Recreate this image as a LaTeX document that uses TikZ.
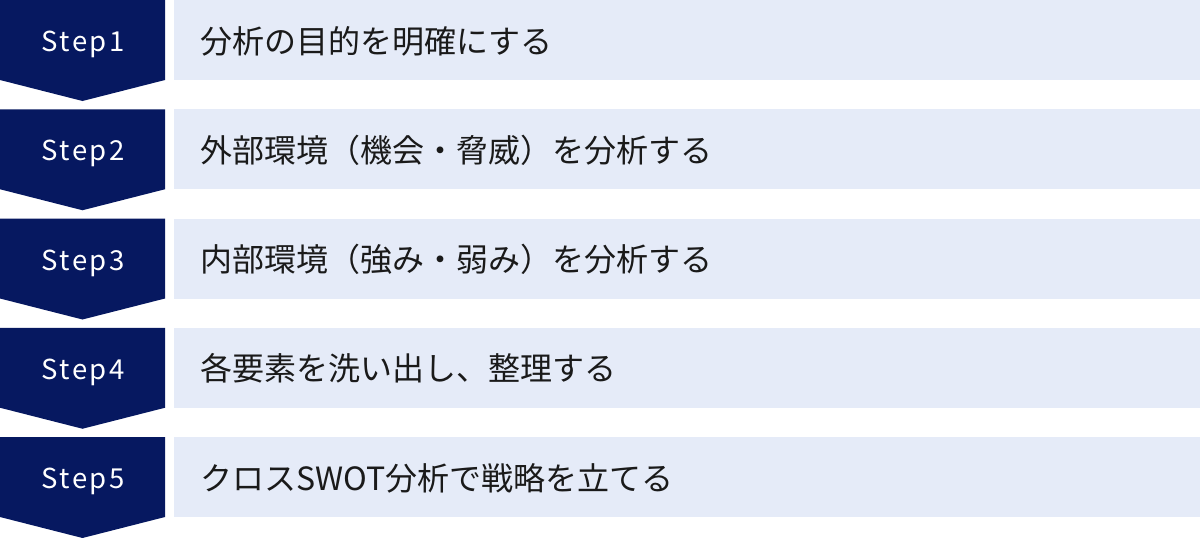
\documentclass[tikz,border=0pt]{standalone}
\usepackage{fontspec}
\setmainfont{Noto Sans CJK JP}
\newfontfamily\stepfont[LetterSpace=9]{Noto Sans CJK JP}
\definecolor{navy}{HTML}{061860}
\definecolor{barbg}{HTML}{E5EBF8}
\definecolor{txt}{HTML}{1A1A1A}
\tikzset{
  chev/.style={fill=navy, draw=none},
  bar/.style={fill=barbg, draw=none},
  steplabel/.style={anchor=base, inner sep=0pt, text=white, font=\stepfont\fontsize{27.5}{34}\selectfont},
  bartext/.style={anchor=base west, inner sep=0pt, text=txt, font=\fontsize{32}{38}\selectfont},
}
\begin{document}
\begin{tikzpicture}[x=1pt, y=-1pt]
\useasboundingbox (0,0) rectangle (1200,538);
\foreach \i/\t in {1/分析の目的を明確にする, 2/外部環境（機会・脅威）を分析する, 3/内部環境（強み・弱み）を分析する, 4/各要素を洗い出し、整理する, 5/クロスSWOT分析で戦略を立てる}{
  \pgfmathsetmacro{\top}{(\i-1)*109.25}
  \fill[chev] (0,\top) -- (165,\top) -- (165,\top+80) -- (82.5,\top+101) -- (0,\top+80) -- cycle;
  \fill[bar] (174,\top) rectangle (1200,\top+80);
  \node[steplabel] (s\i) at (83,\top+51.5) {Step\i};
  \node[bartext] (t\i) at (200,\top+53) {\t};
}
\end{tikzpicture}
\end{document}
